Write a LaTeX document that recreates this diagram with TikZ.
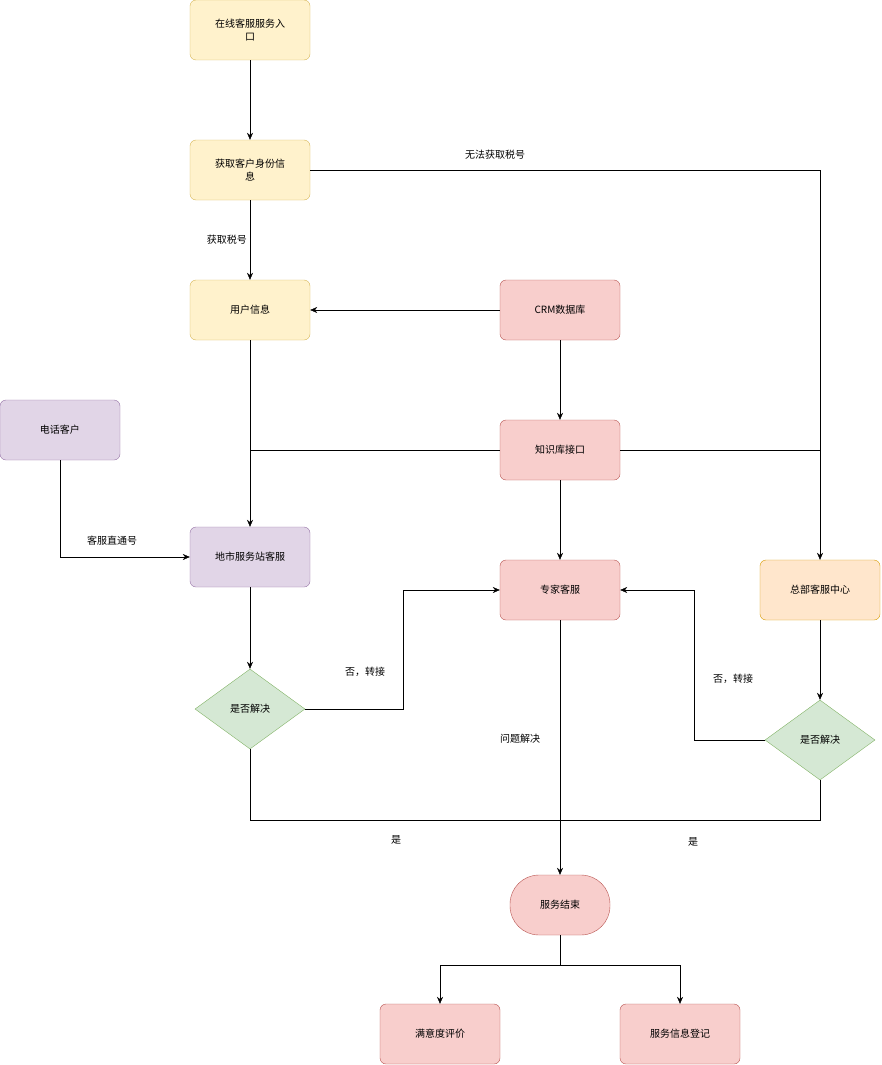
\documentclass[tikz,border=0pt]{standalone}
\usepackage{fontspec}
\setmainfont{Noto Sans CJK SC}
\usetikzlibrary{shapes.geometric,arrows.meta}
\definecolor{yf}{HTML}{FFF2CC}\definecolor{ys}{HTML}{D6B656}
\definecolor{rf}{HTML}{F8CECC}\definecolor{rs}{HTML}{B85450}
\definecolor{pf}{HTML}{E1D5E7}\definecolor{ps}{HTML}{9673A6}
\definecolor{of}{HTML}{FFE6CC}\definecolor{os}{HTML}{D79B00}
\definecolor{gf}{HTML}{D5E8D4}\definecolor{gs}{HTML}{82B366}
\begin{document}
\begin{tikzpicture}[x=1pt,y=-1pt,font=\fontsize{10}{13}\selectfont,
 box/.style={rectangle,rounded corners=6pt,minimum width=120pt,minimum height=60pt,align=center,text width=110pt},
 Y/.style={box,fill=yf,draw=ys},R/.style={box,fill=rf,draw=rs},P/.style={box,fill=pf,draw=ps},O/.style={box,fill=of,draw=os},
 D/.style={diamond,aspect=1.375,minimum width=110pt,minimum height=80pt,inner sep=0pt,fill=gf,draw=gs},
 ar/.style={-{Stealth[length=7pt,width=6pt]}},lbl/.style={fill=white,inner sep=1pt}]
\useasboundingbox (0,0) rectangle (881,1065);
\node[Y] (entry) at (250,30) {在线客服服务入\\口};
\node[Y] (id) at (250,170) {获取客户身份信\\息};
\node[Y] (user) at (250,310) {用户信息};
\node[R] (crm) at (560,310) {CRM数据库};
\node[R] (kb) at (560,450) {知识库接口};
\node[P] (phone) at (60,430) {电话客户};
\node[P] (st) at (250,557) {地市服务站客服};
\node[R] (ex) at (560,590) {专家客服};
\node[O] (hq) at (820,590) {总部客服中心};
\node[D] (d1) at (250,709) {是否解决};
\node[D] (d2) at (820,740) {是否解决};
\node[rectangle,rounded corners=29pt,minimum width=100pt,minimum height=60pt,fill=rf,draw=rs] (end) at (560,905) {服务结束};
\node[R,minimum width=120pt] (sat) at (440,1034) {满意度评价};
\node[R] (reg) at (680,1034) {服务信息登记};
\coordinate (j1) at (250,450); \coordinate (j2) at (820,450);
\draw[ar] (entry) -- (id);
\draw[ar] (id) -- node[lbl,pos=0.5,left=2pt]{获取税号} (user);
\draw[ar] (id.east) -- (820,170) -- (hq.north);
\node at (495,155) {无法获取税号};
\draw[ar] (crm) -- (user);
\draw[ar] (crm) -- (kb);
\draw[ar] (user) -- (st);
\draw (kb.west) -- (j1);
\draw (kb.east) -- (j2);
\draw[ar] (kb) -- (ex);
\draw[ar] (phone.south) -- (60,557) -- (st.west);
\node at (112,541) {客服直通号};
\draw[ar] (st) -- (d1);
\draw[ar] (d1.east) -- (403,709) -- (403,590) -- (ex.west);
\node at (365,672) {否，转接};
\draw[ar] (hq) -- (d2);
\draw[ar] (d2.west) -- (694,740) -- (694,590) -- (ex.east);
\node at (733,679) {否，转接};
\draw[ar] (ex) -- (end);
\node[lbl] at (520,739) {问题解决};
\draw (d1.south) -- (250,820) -- (820,820) -- (d2.south);
\node at (396,840) {是};
\node at (693,842) {是};
\draw[ar] (end.south) -- (560,965) -- (440,965) -- (sat.north);
\draw[ar] (560,965) -- (680,965) -- (reg.north);
\end{tikzpicture}
\end{document}
